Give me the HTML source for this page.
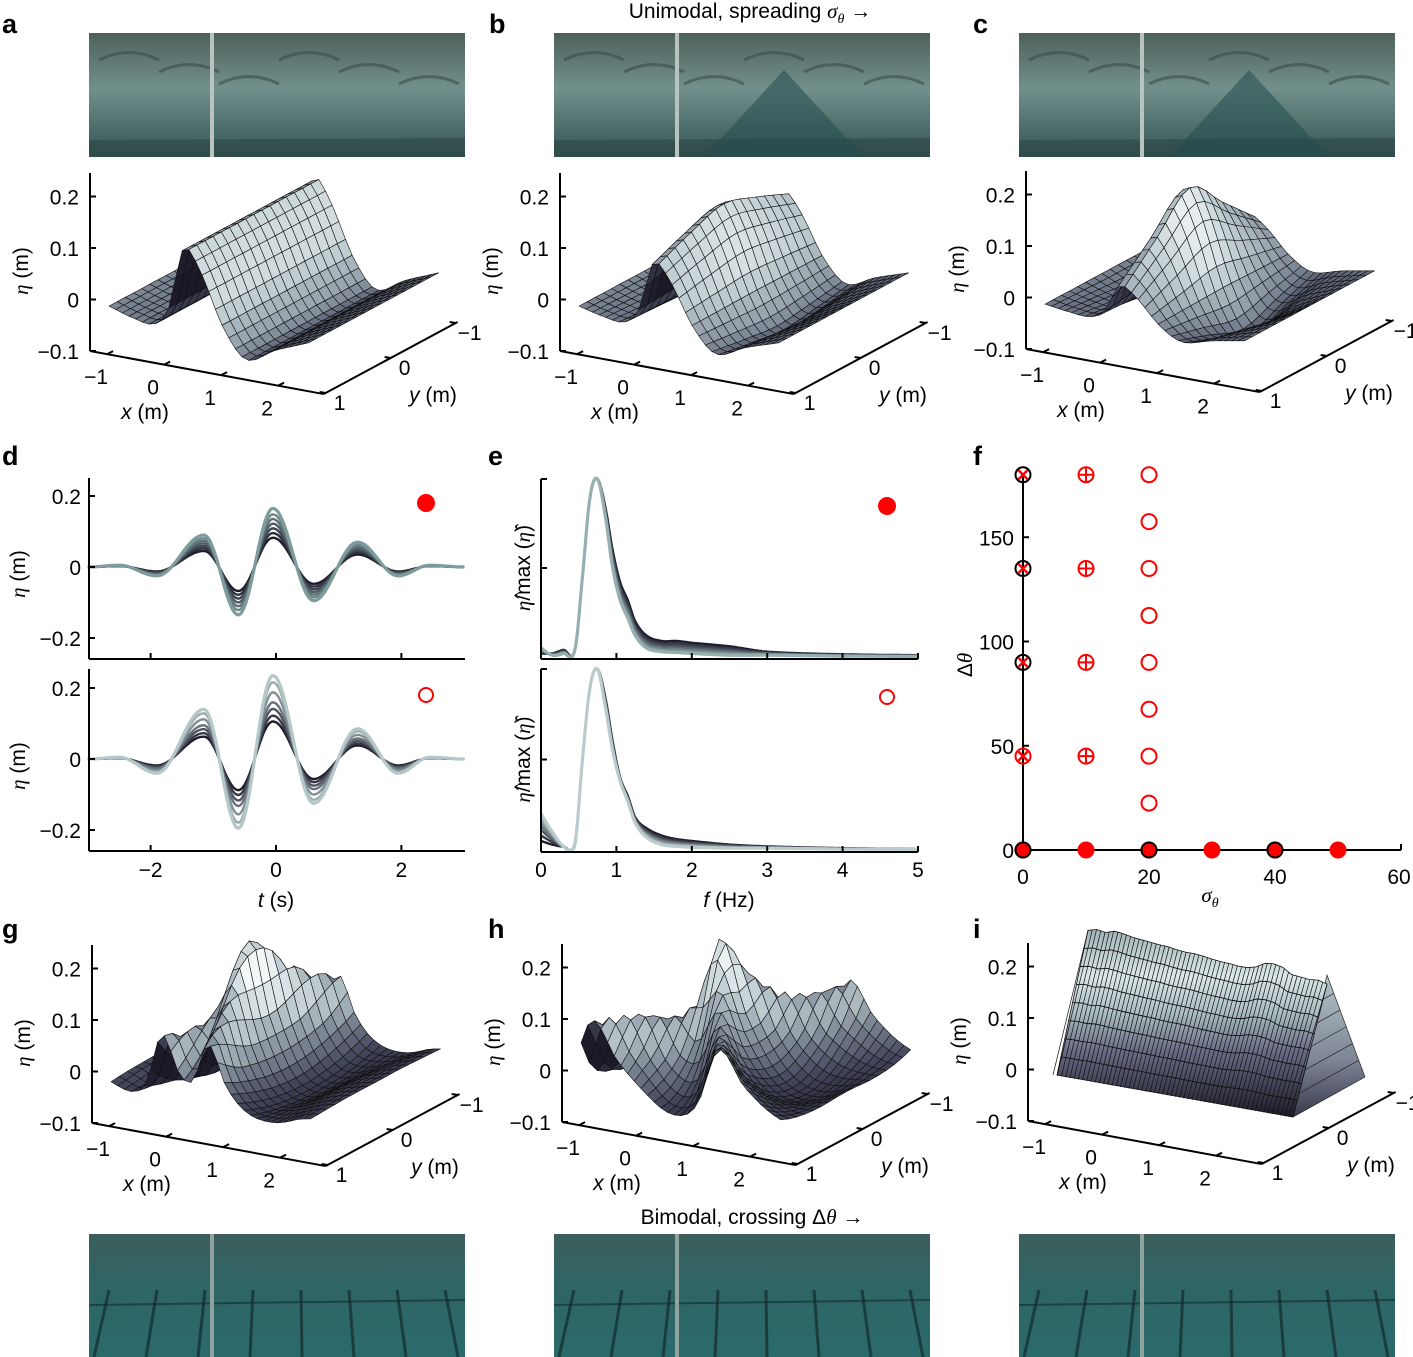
<!DOCTYPE html>
<html><head><meta charset="utf-8"><style>
body{margin:0;background:#fff}
svg{display:block;font-family:"Liberation Sans",sans-serif}
</style></head><body>
<svg id="fig" width="1413" height="1357" viewBox="0 0 1413 1357" xmlns="http://www.w3.org/2000/svg">
<defs>
<linearGradient id="gTop" x1="0" y1="0" x2="0" y2="1"><stop offset="0" stop-color="#4d615c"/><stop offset="0.45" stop-color="#72908b"/><stop offset="0.75" stop-color="#4f6f6c"/><stop offset="1" stop-color="#355654"/></linearGradient>
<linearGradient id="gBot" x1="0" y1="0" x2="0" y2="1"><stop offset="0" stop-color="#3c5e5c"/><stop offset="0.4" stop-color="#2f6565"/><stop offset="1" stop-color="#2a6a6b"/></linearGradient>
<linearGradient id="gWall" x1="0" y1="0" x2="0" y2="1"><stop offset="0" stop-color="#9fb3b5"/><stop offset="0.25" stop-color="#dce8e8"/><stop offset="0.45" stop-color="#a9bcc0"/><stop offset="0.65" stop-color="#6a6b86"/><stop offset="1" stop-color="#1c1b27"/></linearGradient>
<linearGradient id="gEnd" x1="0" y1="0" x2="0" y2="1"><stop offset="0" stop-color="#b5c4c6"/><stop offset="0.6" stop-color="#7d8596"/><stop offset="1" stop-color="#3a394c"/></linearGradient>
</defs>
<g font-weight="bold" font-size="27">
<text x="2" y="33">a</text>
<text x="489" y="33">b</text>
<text x="973" y="33">c</text>
<text x="2" y="465">d</text>
<text x="488" y="465">e</text>
<text x="973" y="465">f</text>
<text x="2" y="938">g</text>
<text x="488" y="938">h</text>
<text x="973" y="938">i</text>
</g>
<text x="750" y="18" font-size="21" text-anchor="middle">Unimodal, spreading <tspan font-family="Liberation Serif" font-style="italic">σ</tspan><tspan font-family="Liberation Serif" font-style="italic" font-size="14" dy="5">θ</tspan><tspan dy="-5"> →</tspan></text>
<text x="752" y="1224" font-size="21" text-anchor="middle">Bimodal, crossing Δ<tspan font-family="Liberation Serif" font-style="italic">θ</tspan> →</text>
<g id="photos"></g>
<g id="surf3d"></g>
<g id="pd"></g>
<g id="pe"></g>
<g id="pf"></g>
</svg>
<script>
const NS='http://www.w3.org/2000/svg';
function mk(tag,attrs,parent){const e=document.createElementNS(NS,tag);for(const k in attrs)e.setAttribute(k,attrs[k]);parent.appendChild(e);return e;}

/* ---------- data arrays ---------- */
const profX=[-1,-0.6,-0.2,0.05,0.3,0.6,1.0,1.4,1.9,2.5];
const profEtaA=[0,-0.015,-0.02,0.02,0.15,0.11,0.0,-0.06,-0.03,0];
const spreadY=[-1,-0.5,0,0.5,1];
const spreadAmpA=[1,1,1,1,1];
const spreadAmpB=[0.8,1.0,1.15,1.0,0.8];
const spreadAmpC=[0.45,0.9,1.35,0.9,0.45];
const profEtaCross=[0,-0.005,-0.02,0.01,0.125,0.05,-0.01,-0.025,-0.01,0];
const crossAngles=[22,48];
const iRidgeEta=[0.23,0.235,0.232,0.238,0.236,0.232,0.23,0.228,0.226,0.225,0.222,0.22,0.22,0.218,0.215,0.213,0.212,0.21,0.21,0.215,0.226,0.228,0.224,0.212,0.21,0.208,0.21,0.205];
const zTicks=[-0.1,0,0.1,0.2];
const zTickLabels=['−0.1','0','0.1','0.2'];
const xTicks3=[-1,0,1,2];
const xTickLabels3=['−1','0','1','2'];
const yTicks3=[-1,0,1];
const yTickLabels3=['−1','0','1'];
const tExt=[-3,-2.5,-1.9,-1.15,-0.6,-0.05,0.6,1.3,1.95,2.45,3];
const etaExtTop=[0,0.005,-0.025,0.09,-0.135,0.165,-0.095,0.07,-0.025,0.005,0];
const etaExtBot=[0,0.005,-0.04,0.14,-0.195,0.235,-0.125,0.085,-0.04,0.005,0];
const dScalesTop=[0.5,0.58,0.66,0.74,0.82,0.9,1.0];
const dScalesBot=[0.45,0.52,0.6,0.68,0.8,0.92,1.0];
const dTicksY=[-0.2,0,0.2];
const dTickLabelsY=['−0.2','0','0.2'];
const dTicksX=[-2,0,2];
const dTickLabelsX=['−2','0','2'];
const specF=[0,0.15,0.3,0.45,0.55,0.65,0.75,0.85,0.95,1.05,1.15,1.25,1.4,1.6,1.8,2.0,2.5,3,4,5];
const specTopLight=[0.05,0.01,0.02,0.04,0.45,0.9,1.0,0.8,0.5,0.32,0.22,0.12,0.05,0.03,0.025,0.02,0.01,0.01,0.005,0.003];
const specTopDark=[0.02,0.02,0.04,0.04,0.45,0.9,1.0,0.85,0.6,0.42,0.32,0.2,0.12,0.09,0.09,0.08,0.06,0.03,0.015,0.01];
const specBotLight=[0.2,0.1,0.02,0.03,0.5,0.9,1.0,0.8,0.55,0.38,0.27,0.15,0.07,0.03,0.02,0.015,0.01,0.01,0.005,0.003];
const specBotDark=[0.05,0.03,0.02,0.04,0.5,0.9,1.0,0.85,0.6,0.4,0.3,0.18,0.12,0.08,0.06,0.05,0.03,0.02,0.01,0.005];
const eMix=[1,0.8,0.6,0.45,0.3,0.15,0];
const eTicksX=[0,1,2,3,4,5];
const eTickLabelsX=['0','1','2','3','4','5'];
const fFilledSigma=[0,10,20,30,40,50];
const fFilledDTheta=[0,0,0,0,0,0];
const fRingedFilledSigma=[0,20,40];
const fCrossDTheta=[45,90,135,180];
const fCrossRinged=[false,true,true,true];
const fPlusDTheta=[45,90,135,180];
const fOpenDTheta=[22.5,45,67.5,90,112.5,135,157.5,180];
const fTicksX=[0,20,40,60];
const fTicksY=[0,50,100,150];

function interp(xs,vs,x){
  if(x<=xs[0])return vs[0]; const n=xs.length; if(x>=xs[n-1])return vs[n-1];
  let i=0; while(xs[i+1]<x)i++;
  const h=xs[i+1]-xs[i], s=(x-xs[i])/h;
  const m0=i>0?(vs[i+1]-vs[i-1])/(xs[i+1]-xs[i-1]):(vs[i+1]-vs[i])/h;
  const m1=i<n-2?(vs[i+2]-vs[i])/(xs[i+2]-xs[i]):(vs[i+1]-vs[i])/h;
  const s2=s*s,s3=s2*s;
  return (2*s3-3*s2+1)*vs[i]+(s3-2*s2+s)*h*m0+(-2*s3+3*s2)*vs[i+1]+(s3-s2)*h*m1;
}
function cosInterp(xs,vs,x){
  let i=0; while(i<xs.length-2&&xs[i+1]<x)i++;
  const s=Math.min(1,Math.max(0,(x-xs[i])/(xs[i+1]-xs[i])));
  return vs[i]+(vs[i+1]-vs[i])*(1-Math.cos(Math.PI*s))/2;
}
const cmStops=[[0,[28,26,40]],[0.3,[70,72,94]],[0.5,[125,136,150]],[0.75,[188,202,206]],[1,[242,247,247]]];
function cmap(t){t=Math.max(0,Math.min(1,t));let i=0;while(cmStops[i+1][0]<t)i++;
  const a=cmStops[i],b=cmStops[i+1],s=(t-a[0])/(b[0]-a[0]);
  return 'rgb('+a[1].map((v,k)=>Math.round(v+(b[1][k]-v)*s)).join(',')+')';}

/* ---------- photos ---------- */
const photos=document.getElementById('photos');
const photoX=[89,554,1019];
photoX.forEach((px,k)=>{
  let r=mk('rect',{x:px,y:33,width:376,height:124,fill:'url(#gTop)'},photos);
  
  
  for(let j=0;j<6;j++){
    let w=mk('path',{d:`M${px+10+j*60} ${60+(j%3)*12} q30 -15 60 0`,fill:'none',stroke:'#3a4c48','stroke-width':3,opacity:0.6},photos);
    
    
  }
  let p=mk('path',{d:`M${px} 140 L${px+376} 138 L${px+376} 157 L${px} 157Z`,fill:'#2b4644',opacity:0.6},photos);
  
  
  if(k>0){let w=mk('path',{d:`M${px+150} 157 L${px+230} 70 L${px+310} 157Z`,fill:'#234d4f',opacity:0.55},photos);
    
    }
  let pole=mk('rect',{x:px+121,y:33,width:4,height:124,fill:'#b8c2be'},photos);
  
  
  let r2=mk('rect',{x:px,y:1234,width:376,height:123,fill:'url(#gBot)'},photos);
  
  
  for(let j=0;j<8;j++){
    let l=mk('line',{x1:px+20+j*48,y1:1290,x2:px+5+j*52,y2:1357,stroke:'#142a2c','stroke-width':3,opacity:0.7},photos);
    
    
  }
  let h=mk('line',{x1:px,y1:1305,x2:px+376,y2:1300,stroke:'#142a2c','stroke-width':2,opacity:0.6},photos);
  
  
  let pole2=mk('rect',{x:px+121,y:1234,width:4,height:123,fill:'#8fa3a0'},photos);
  
  
});

/* ---------- 3D panels ---------- */
const S=document.getElementById('surf3d');
const ex=[57,10.5], ey=[65,-35], X0=-1.3, Y0=1.03;
function P(O,x,y,z){return [O[0]+(x-X0)*ex[0]+(Y0-y)*ey[0], O[1]+(x-X0)*ex[1]+(Y0-y)*ey[1]-(z+0.1)*470];}
function axes3d(O,name){
  const g=mk('g',{},S);
  
  
  let za=mk('line',{x1:O[0],y1:O[1],x2:O[0],y2:O[1]-178,stroke:'#000','stroke-width':2},g);
  
  
  const xe=[O[0]+4.1*ex[0],O[1]+4.1*ex[1]];
  let xa=mk('line',{x1:O[0],y1:O[1],x2:xe[0],y2:xe[1],stroke:'#000','stroke-width':2},g);
  
  
  let ya=mk('line',{x1:xe[0],y1:xe[1],x2:xe[0]+2.06*ey[0],y2:xe[1]+2.06*ey[1],stroke:'#000','stroke-width':2},g);
  
  
  zTicks.forEach((z,i)=>{const yy=O[1]-(z+0.1)*515;
    let t=mk('line',{x1:O[0],y1:yy,x2:O[0]+6,y2:yy,stroke:'#000','stroke-width':2},g);
    
    
    let tx=mk('text',{x:O[0]-11,y:yy+8,'font-size':21,'text-anchor':'end'},g);tx.textContent=zTickLabels[i];
    
    });
  xTicks3.forEach((x,i)=>{const p=[O[0]+(x-X0)*ex[0],O[1]+(x-X0)*ex[1]];
    let t=mk('line',{x1:p[0],y1:p[1],x2:p[0]+6,y2:p[1]-3,stroke:'#000','stroke-width':2},g);
    
    
    let tx=mk('text',{x:p[0]-11,y:p[1]+30,'font-size':21,'text-anchor':'middle'},g);tx.textContent=xTickLabels3[i];
    
    });
  yTicks3.forEach((y,i)=>{const p=[xe[0]+(Y0-y)*ey[0],xe[1]+(Y0-y)*ey[1]];
    let t=mk('line',{x1:p[0],y1:p[1],x2:p[0]-6,y2:p[1]-1,stroke:'#000','stroke-width':2},g);
    
    
    let tx=mk('text',{x:p[0]+14,y:p[1]+17,'font-size':21,'text-anchor':'middle'},g);tx.textContent=yTickLabels3[i];
    
    });
  let xt=mk('text',{x:O[0]+55,y:O[1]+68,'font-size':21,'text-anchor':'middle'},g);
  xt.innerHTML='<tspan font-style="italic">x</tspan> (m)';
  
  
  let yt=mk('text',{x:O[0]+343,y:O[1]+51,'font-size':21,'text-anchor':'middle'},g);
  yt.innerHTML='<tspan font-style="italic">y</tspan> (m)';
  
  
  let zt=mk('text',{x:0,y:0,'font-size':21,'text-anchor':'middle',transform:`translate(${O[0]-62},${O[1]-80}) rotate(-90)`},g);
  zt.innerHTML='<tspan font-family="Liberation Serif" font-style="italic">η</tspan> (m)';
  
  
}
function surface(O,name,fn,nx,ny,base,kz,kx,ky,lw){
  const g=mk('g',{},S);
  
  
  const xs=[],ys=[];for(let i=0;i<=nx;i++)xs.push(-1+3.5*i/nx);for(let j=0;j<=ny;j++)ys.push(-1+2*j/ny);
  const Z=xs.map(x=>ys.map(y=>fn(x,y)));
  const quads=[];
  for(let i=0;i<nx;i++)for(let j=0;j<ny;j++){
    const zc=(Z[i][j]+Z[i+1][j]+Z[i][j+1]+Z[i+1][j+1])/4;
    const dzdx=((Z[i+1][j]+Z[i+1][j+1])-(Z[i][j]+Z[i][j+1]))/2/(xs[i+1]-xs[i]);
    const dzdy=((Z[i][j+1]+Z[i+1][j+1])-(Z[i][j]+Z[i+1][j]))/2/(ys[j+1]-ys[j]);
    const d=10.5*(xs[i]+xs[i+1])/2+35*(ys[j]+ys[j+1])/2;
    quads.push({i,j,d,c:cmap(base+kz*zc-kx*dzdx-ky*dzdy)});
  }
  quads.sort((a,b)=>a.d-b.d);
  quads.forEach(q=>{const {i,j}=q;
    const pts=[[i,j],[i+1,j],[i+1,j+1],[i,j+1]].map(([a,b])=>P(O,xs[a],ys[b],Z[a][b]).map(v=>v.toFixed(1)).join(',')).join(' ');
    let p=mk('polygon',{points:pts,fill:q.c,stroke:'#111','stroke-width':lw,'stroke-linejoin':'round'},g);
    
    });
}
function unimodal(amp){return (x,y)=>interp(profX,profEtaA,x)*interp(spreadY,amp,y);}
function crossing(angDeg){const a=angDeg*Math.PI/180;
  return (x,y)=>{const u1=0.3+(x-0.3)*Math.cos(a)+y*Math.sin(a), u2=0.3+(x-0.3)*Math.cos(a)-y*Math.sin(a);
    return interp(profX,profEtaCross,u1)+interp(profX,profEtaCross,u2);};}
const panels3=[
 {O:[90,351],n:'panel-a',fn:unimodal(spreadAmpA),base:0.45,kz:1.2,kx:1.1,ky:0.3},
 {O:[560,351],n:'panel-b',fn:unimodal(spreadAmpB),base:0.45,kz:1.2,kx:1.0,ky:0.4},
 {O:[1026,349],n:'panel-c',fn:unimodal(spreadAmpC),base:0.43,kz:1.4,kx:0.9,ky:0.5},
 {O:[92,1123],n:'panel-g',fn:crossing(crossAngles[0]),base:0.27,kz:2.0,kx:0.7,ky:0.5},
 {O:[562,1122],n:'panel-h',fn:crossing(crossAngles[1]),base:0.27,kz:2.0,kx:0.7,ky:0.5}
];
panels3.forEach(p=>{axes3d(p.O,p.n);surface(p.O,p.n,p.fn,30,16,p.base,p.kz,p.kx,p.ky,0.6);});
axes3d([1028,1121],'panel-i');
(function(){
  const g=mk('g',{},S);
  
  
  const n=iRidgeEta.length;
  const xL=1088,xR=1327,yL=935,yR=977,bxL=1057,byL=1075,bxR=1293,byR=1117;
  const top=[],bot=[];
  for(let k=0;k<n;k++){const s=k/(n-1);
    top.push([xL+(xR-xL)*s, yL+(yR-yL)*s-(iRidgeEta[k]-0.22)*470]);
    bot.push([bxL+(bxR-bxL)*s, byL+(byR-byL)*s]);}
  let back=mk('polygon',{points:`${xR},${yR-2} 1365,1077 ${bxR},${byR}`,fill:'url(#gEnd)',stroke:'#111','stroke-width':0.6},g);
  
  
  for(let r=1;r<6;r++){const f=r/6;
    let l=mk('line',{x1:xR+(1365-xR)*f,y1:yR+(1077-yR)*f,x2:xR+(bxR-xR)*f,y2:yR+(byR-yR)*f,stroke:'#222','stroke-width':0.7},g);
    
    }
  const pts=top.map(p=>p.join(',')).concat(bot.slice().reverse().map(p=>p.join(','))).join(' ');
  let face=mk('polygon',{points:pts,fill:'url(#gWall)',stroke:'#111','stroke-width':0.8},g);
  
  
  const cols=56;
  for(let k=0;k<=cols;k++){const s=k/cols;const ti=s*(n-1),i0=Math.floor(ti),i1=Math.min(n-1,i0+1),f=ti-i0;
    const tp=[top[i0][0]*(1-f)+top[i1][0]*f, top[i0][1]*(1-f)+top[i1][1]*f];
    const bp=[bxL+(bxR-bxL)*s, byL+(byR-byL)*s];
    let l=mk('line',{x1:tp[0],y1:tp[1],x2:bp[0]-4,y2:bp[1],stroke:'#111','stroke-width':0.7},g);
    
    }
  for(let r=1;r<8;r++){const f=r/8;
    const pp=top.map((p,k)=>[(p[0]*(1-f)+bot[k][0]*f).toFixed(1),(p[1]*(1-f)+bot[k][1]*f).toFixed(1)].join(',')).join(' ');
    let l=mk('polyline',{points:pp,fill:'none',stroke:'#111','stroke-width':0.9},g);
    
    }
})();

/* ---------- panel d ---------- */
const D=document.getElementById('pd');
const dAxes=[{top:478,bot:659,y0:567,y02:496,ext:etaExtTop,sc:dScalesTop,light:[127,156,156],mark:'filled',n:'top'},
             {top:669,bot:851,y0:759,y02:688,ext:etaExtBot,sc:dScalesBot,light:[180,200,200],mark:'open',n:'bottom'}];
const tx=t=>276+t*62.7;
dAxes.forEach((ax,ai)=>{
  const ys=v=>ax.y0-(v/0.2)*(ax.y0-ax.y02);
  const g=mk('g',{},D);
  
  
  ax.sc.forEach((s,k)=>{const f=k/(ax.sc.length-1);
    const c=[30,28,44].map((v,q)=>Math.round(v+(ax.light[q]-v)*f));
    let d='';for(let t=-3;t<=3.0001;t+=0.03){d+=(d?'L':'M')+tx(t).toFixed(1)+','+ys(cosInterp(tExt,ax.ext.map(v=>v*s),t)).toFixed(1);}
    let p=mk('path',{d,fill:'none',stroke:'rgb('+c.join(',')+')','stroke-width':k==ax.sc.length-1?3.2:2.4},g);
    
    });
  let la=mk('line',{x1:89,y1:ax.top,x2:89,y2:ax.bot,stroke:'#000','stroke-width':2},g);
  
  
  let ba=mk('line',{x1:89,y1:ax.bot,x2:465,y2:ax.bot,stroke:'#000','stroke-width':2},g);
  
  
  dTicksY.forEach((v,i)=>{let t=mk('line',{x1:89,y1:ys(v),x2:95,y2:ys(v),stroke:'#000','stroke-width':2},g);
    
    
    let l=mk('text',{x:81,y:ys(v)+8,'font-size':21,'text-anchor':'end'},g);l.textContent=dTickLabelsY[i];
    
    });
  dTicksX.forEach((v,i)=>{let t=mk('line',{x1:tx(v),y1:ax.bot,x2:tx(v),y2:ax.bot-6,stroke:'#000','stroke-width':2},g);
    
    
    if(ai==1){let l=mk('text',{x:tx(v),y:877,'font-size':21,'text-anchor':'middle'},g);l.textContent=dTickLabelsX[i];
      
      }});
  let yt=mk('text',{x:0,y:0,'font-size':21,'text-anchor':'middle',transform:`translate(25,${ax.y0+7}) rotate(-90)`},g);
  yt.innerHTML='<tspan font-family="Liberation Serif" font-style="italic">η</tspan> (m)';
  
  
  let m=mk('circle',{cx:426,cy:ai?695:503,r:ax.mark=='filled'?8:7,fill:ax.mark=='filled'?'#f00':'none',stroke:'#f00','stroke-width':2},g);
  
  
});
let dxt=mk('text',{x:276,y:907,'font-size':21,'text-anchor':'middle'},D);
dxt.innerHTML='<tspan font-style="italic">t</tspan> (s)';



/* ---------- panel e ---------- */
const E=document.getElementById('pe');
const fx=f=>541+f*75.4;
const eAxes=[{top:479,bot:657,light:specTopLight,dark:specTopDark,lc:[150,175,175],mark:'filled',n:'top'},
             {top:669,bot:850,light:specBotLight,dark:specBotDark,lc:[185,203,203],mark:'open',n:'bottom'}];
eAxes.forEach((ax,ai)=>{
  const ys=v=>ax.bot-v*(ax.bot-ax.top);
  const g=mk('g',{},E);
  
  
  eMix.forEach((w,k)=>{const f=k/(eMix.length-1);
    const c=[30,28,44].map((v,q)=>Math.round(v+(ax.lc[q]-v)*f));
    const vals=ax.light.map((v,q)=>v*(1-w)+ax.dark[q]*w);
    let d='';for(let x=0;x<=5.0001;x+=0.02){d+=(d?'L':'M')+fx(x).toFixed(1)+','+ys(Math.max(0,interp(specF,vals,x))).toFixed(1);}
    let p=mk('path',{d,fill:'none',stroke:'rgb('+c.join(',')+')','stroke-width':k==eMix.length-1?3.2:2.4},g);
    
    });
  let la=mk('line',{x1:541,y1:ax.top,x2:541,y2:ax.bot+2,stroke:'#000','stroke-width':2},g);
  
  
  let ba=mk('line',{x1:541,y1:ax.bot+2,x2:918,y2:ax.bot+2,stroke:'#000','stroke-width':2},g);
  
  
  [0.5,1].forEach(v=>{let t=mk('line',{x1:541,y1:ys(v),x2:547,y2:ys(v),stroke:'#000','stroke-width':2},g);
    
    });
  eTicksX.forEach((v,i)=>{let t=mk('line',{x1:fx(v),y1:ax.bot+2,x2:fx(v),y2:ax.bot-4,stroke:'#000','stroke-width':2},g);
    
    
    if(ai==1){let l=mk('text',{x:fx(v),y:877,'font-size':21,'text-anchor':'middle'},g);l.textContent=eTickLabelsX[i];
      
      }});
  let yt=mk('text',{x:0,y:0,'font-size':21,'text-anchor':'middle',transform:`translate(530,${(ax.top+ax.bot)/2}) rotate(-90)`},g);
  yt.innerHTML='<tspan font-family="Liberation Serif" font-style="italic">η̂</tspan>/max (<tspan font-family="Liberation Serif" font-style="italic">η̂</tspan>)';
  
  
  let m=mk('circle',{cx:887,cy:ai?697:506,r:ax.mark=='filled'?8:7,fill:ax.mark=='filled'?'#f00':'none',stroke:'#f00','stroke-width':2},g);
  
  
});
let ext=mk('text',{x:729,y:907,'font-size':21,'text-anchor':'middle'},E);
ext.innerHTML='<tspan font-style="italic">f</tspan> (Hz)';



/* ---------- panel f ---------- */
const F=document.getElementById('pf');
const sx=s=>1023+s*6.3, sy=v=>850-v*2.085;
let fya=mk('line',{x1:1023,y1:sy(180),x2:1023,y2:850,stroke:'#000','stroke-width':2},F);


let fxa=mk('line',{x1:1023,y1:850,x2:sx(60),y2:850,stroke:'#000','stroke-width':2},F);


fTicksY.forEach(v=>{let t=mk('line',{x1:1023,y1:sy(v),x2:1029,y2:sy(v),stroke:'#000','stroke-width':2},F);
  
  
  let l=mk('text',{x:1014,y:sy(v)+8,'font-size':21,'text-anchor':'end'},F);l.textContent=String(v);
  
  });
fTicksX.forEach(v=>{let t=mk('line',{x1:sx(v),y1:850,x2:sx(v),y2:844,stroke:'#000','stroke-width':2},F);
  
  
  let l=mk('text',{x:sx(v)+(v==60?-2:0),y:884,'font-size':21,'text-anchor':'middle'},F);l.textContent=String(v);
  
  });
let fxt=mk('text',{x:1210,y:902,'font-size':21,'text-anchor':'middle','font-family':'Liberation Serif','font-style':'italic'},F);
fxt.innerHTML='σ<tspan font-size="14" dy="5">θ</tspan>';


let fyt=mk('text',{x:0,y:0,'font-size':21,'text-anchor':'middle',transform:'translate(972,665) rotate(-90)'},F);
fyt.innerHTML='Δ<tspan font-family="Liberation Serif" font-style="italic">θ</tspan>';


fFilledSigma.forEach((s,i)=>{let c=mk('circle',{cx:sx(s),cy:sy(fFilledDTheta[i]),r:8.5,fill:'#f00'},F);
  
  
  if(fRingedFilledSigma.includes(s)){let r=mk('circle',{cx:sx(s),cy:sy(fFilledDTheta[i]),r:7.5,fill:'none',stroke:'#000','stroke-width':2},F);
    
    }});
fCrossDTheta.forEach((v,i)=>{const x=sx(0),y=sy(v);
  let c=mk('circle',{cx:x,cy:y,r:7.5,fill:'none',stroke:fCrossRinged[i]?'#000':'#f00','stroke-width':2},F);
  
  
  let p=mk('path',{d:`M${x-4.5} ${y-4.5}L${x+4.5} ${y+4.5}M${x+4.5} ${y-4.5}L${x-4.5} ${y+4.5}`,stroke:'#f00','stroke-width':2.5},F);
  
  });
fPlusDTheta.forEach(v=>{const x=sx(10),y=sy(v);
  let c=mk('circle',{cx:x,cy:y,r:7.5,fill:'none',stroke:'#f00','stroke-width':2},F);
  
  
  let p=mk('path',{d:`M${x-7.5} ${y}L${x+7.5} ${y}M${x} ${y-7.5}L${x} ${y+7.5}`,stroke:'#f00','stroke-width':2},F);
  
  });
fOpenDTheta.forEach(v=>{let c=mk('circle',{cx:sx(20),cy:sy(v),r:7.5,fill:'none',stroke:'#f00','stroke-width':2},F);
  
  });
</script>
</body></html>
